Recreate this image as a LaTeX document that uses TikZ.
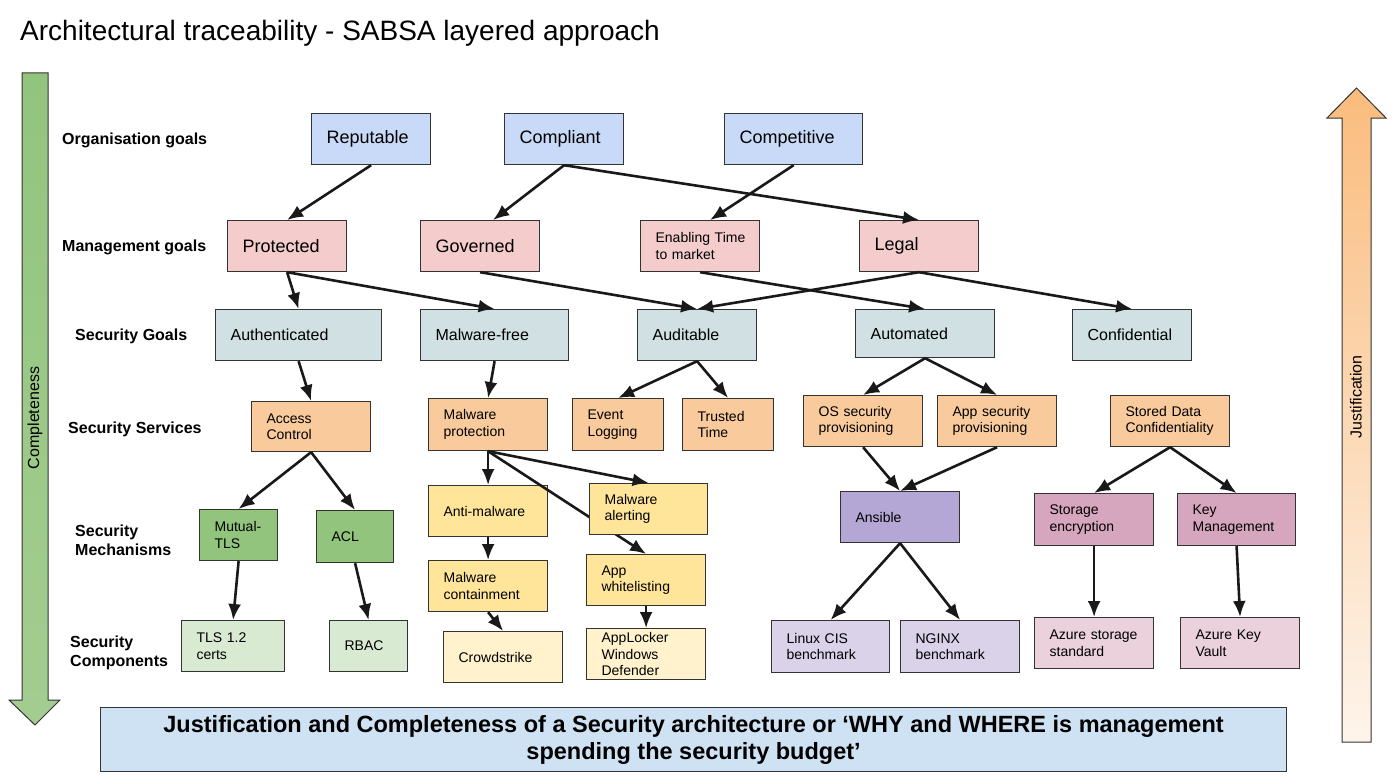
\documentclass[tikz,border=0pt]{standalone}
\usepackage{fontspec}
\setmainfont{Liberation Sans}
\usetikzlibrary{arrows.meta}

\definecolor{orgfill}{HTML}{C9DAF8}
\definecolor{mgmtfill}{HTML}{F4CCCC}
\definecolor{secgoalfill}{HTML}{D0E0E3}
\definecolor{servfill}{HTML}{F9CB9C}
\definecolor{mechgreen}{HTML}{93C47D}
\definecolor{compgreen}{HTML}{D9EAD3}
\definecolor{mechyellow}{HTML}{FFE599}
\definecolor{compyellow}{HTML}{FFF2CC}
\definecolor{mechpurple}{HTML}{B4A7D6}
\definecolor{comppurple}{HTML}{D9D2E9}
\definecolor{mechmauve}{HTML}{D5A6BD}
\definecolor{compmauve}{HTML}{EAD1DC}
\definecolor{summaryfill}{HTML}{CFE2F3}
\definecolor{edgegray}{HTML}{333333}

\begin{document}
\begin{tikzpicture}[
  x=1pt,y=-1pt,
  >={Latex[length=16pt,width=13pt]},
  box/.style={draw=edgegray,line width=1.2pt,anchor=north west,inner xsep=15pt,inner ysep=2pt,
    text width=89pt,minimum height=51pt,align=left,
    font=\fontsize{14}{16.5}\selectfont},
  big/.style={box,font=\fontsize{18}{21}\selectfont},
  mid/.style={box,font=\fontsize{16}{19}\selectfont},
  layer/.style={anchor=west,align=left,inner sep=0pt,font=\bfseries\fontsize{16}{19.3}\selectfont},
  link/.style={->,line width=2.6pt,draw=black!90},
  bigarrow/.style={draw=edgegray,line width=1pt}
]
  \useasboundingbox (0,0) rectangle (1400,784);

  \node[anchor=base west,inner sep=0pt,font=\fontsize{28}{32}\selectfont] (title) at (20,40.7)
    {Architectural traceability - SABSA layered approach};

  % side arrows
  \shadedraw[bigarrow,top color=mechgreen,middle color=compgreen,bottom color=mechgreen!85!white]
    (22,73) -- (48,73) -- (48,700) -- (60,700) -- (35,725) -- (9,700) -- (22,700) -- cycle;
  \node[rotate=90,font=\fontsize{16}{19}\selectfont] (compl) at (35,418) {Completeness};
  \shadedraw[bigarrow,top color=servfill!80!orange,bottom color=servfill!20!white]
    (1342,742) -- (1371,742) -- (1371,118) -- (1386,118) -- (1356.5,88) -- (1327,118) -- (1342,118) -- cycle;
  \node[rotate=90,font=\fontsize{16}{19}\selectfont] (justif) at (1356,397) {Justification};

  % layer names
  \node[layer] (lorg) at (62,140) {Organisation goals};
  \node[layer] (lmgmt) at (62,247) {Management goals};
  \node[layer] (lsgoal) at (75,336) {Security Goals};
  \node[layer] (lserv) at (68,429) {Security Services};
  \node[layer] (lmech) at (75,540.5) {Security\\Mechanisms};
  \node[layer] (lcomp) at (70,653) {Security\\Components};

  % organisation goals
  \node[big,fill=orgfill] (rep) at (311,113) {Reputable};
  \node[big,fill=orgfill] (compli) at (504,113) {Compliant};
  \node[big,fill=orgfill,text width=108pt] (compet) at (724,113) {Competitive};

  % management goals
  \node[big,fill=mgmtfill] (prot) at (227,220) {Protected};
  \node[big,fill=mgmtfill] (gov) at (420,220) {Governed};
  \node[box,fill=mgmtfill] (ttm) at (640,220) {\mbox{Enabling Time}\\to market};
  \node[big,fill=mgmtfill] (legal) at (859,220) {Legal};

  % security goals
  \node[mid,fill=secgoalfill,text width=136pt] (authn) at (215,309) {Authenticated};
  \node[mid,fill=secgoalfill,text width=118pt] (mfree) at (420,309) {Malware-free};
  \node[mid,fill=secgoalfill] (audit) at (637,309) {Auditable};
  \node[mid,fill=secgoalfill,text width=109pt,minimum height=48pt] (autom) at (855,309) {Automated};
  \node[mid,fill=secgoalfill] (conf) at (1072,309) {Confidential};

  % security services
  \node[box,fill=servfill,minimum height=50pt] (acc) at (251,401) {Access\\Control};
  \node[box,fill=servfill,minimum height=52pt] (mprot) at (428,398) {Malware\\protection};
  \node[box,fill=servfill,text width=61pt,minimum height=52pt] (evlog) at (572,398) {Event\\Logging};
  \node[box,fill=servfill,text width=61pt,minimum height=52pt] (trtime) at (682,398) {Trusted\\Time};
  \node[box,fill=servfill] (ossec) at (803,395) {OS security\\provisioning};
  \node[box,fill=servfill] (appsec) at (937,395) {App security\\provisioning};
  \node[box,fill=servfill] (sdc) at (1110,395) {Stored Data\\\mbox{Confidentiality}};

  % security mechanisms
  \node[box,fill=mechgreen,text width=48pt] (mtls) at (199,509) {Mutual-\\TLS};
  \node[box,fill=mechgreen,text width=47pt,minimum height=52pt] (acl) at (316,510) {ACL};
  \node[box,fill=mechyellow] (antim) at (428,485) {Anti-malware};
  \node[box,fill=mechyellow] (mcont) at (428,560) {Malware\\containment};
  \node[box,fill=mechyellow] (appwl) at (586,554) {App\\whitelisting};
  \node[box,fill=mechpurple] (ansible) at (840,491) {Ansible};
  \node[box,fill=mechmauve,minimum height=52pt] (stenc) at (1034,493) {Storage\\encryption};
  \node[box,fill=mechmauve,text width=88pt,minimum height=52pt] (keym) at (1177,493) {Key\\Management};

  % security components
  \node[box,fill=compgreen,text width=73pt] (tls) at (181,620) {TLS 1.2\\certs};
  \node[box,fill=compgreen,text width=48pt] (rbac) at (329,620) {RBAC};
  \node[box,fill=compyellow] (crowd) at (443,631) {Crowdstrike};
  \node[box,fill=compyellow] (applock) at (586,628) {AppLocker\\Windows\\Defender};
  \node[box,fill=comppurple,text width=88pt,minimum height=52pt] (linux) at (771,620) {Linux CIS\\benchmark};
  \node[box,fill=comppurple,minimum height=52pt] (nginx) at (900,620) {NGINX\\benchmark};
  \node[box,fill=compmauve] (azst) at (1034,617) {Azure storage\\standard};
  \node[box,fill=compmauve] (azkv) at (1180,617) {Azure Key\\Vault};

  % traceability links
  \draw[link] (rep.south) -- (prot.north);
  \draw[link] (compli.south) -- ([xshift=13pt]gov.north);
  \draw[link] (compli.south) -- (legal.north);
  \draw[link] (compet.south) -- ([xshift=10pt]ttm.north);
  \draw[link] (prot.south) -- (authn.north);
  \draw[link] (prot.south) -- (mfree.north);
  \draw[link] (gov.south) -- (audit.north);
  \draw[link] (legal.south) -- (audit.north);
  \draw[link] (ttm.south) -- (autom.north);
  \draw[link] (legal.south) -- (conf.north);
  \draw[link] (authn.south) -- (acc.north);
  \draw[link] (mfree.south) -- (mprot.north);
  \draw[link] (audit.south) -- (evlog.north);
  \draw[link] (audit.south) -- (trtime.north);
  \draw[link] (autom.south) -- (ossec.north);
  \draw[link] (autom.south) -- (appsec.north);
  \draw[link] (sdc.south) -- (stenc.north);
  \draw[link] (sdc.south) -- (keym.north);
  \draw[link] (acc.south) -- (mtls.north);
  \draw[link] (acc.south) -- (acl.north);
  \draw[link] (mprot.south) -- (antim.north);
  \draw[link] (mprot.south) -- (appwl.north);
  \draw[link] (antim.south) -- (mcont.north);
  \draw[link] (mcont.south) -- (crowd.north);
  \draw[link] (appwl.south) -- (applock.north);
  \draw[link] (ossec.south) -- (ansible.north);
  \draw[link] (appsec.south) -- (ansible.north);
  \draw[link] (ansible.south) -- (linux.north);
  \draw[link] (ansible.south) -- (nginx.north);
  \draw[link] (stenc.south) -- (azst.north);
  \draw[link] (keym.south) -- (azkv.north);
  \draw[link] (mtls.south) -- (tls.north);
  \draw[link] (acl.south) -- (rbac.north);

  % drawn last so it hides the whitelisting link
  \node[box,fill=mechyellow,text width=88pt] (malert) at (589,483) {Malware\\alerting};
  \draw[link] (mprot.south) -- (malert.north);

  \node[draw=edgegray,line width=1.2pt,fill=summaryfill,anchor=north west,
    minimum width=1186pt,minimum height=64pt,align=center,inner sep=0pt,
    font=\bfseries\fontsize{23.5}{27}\selectfont] (summary) at (100,707)
    {Justification and Completeness of a Security architecture or ‘WHY and WHERE is management\\
     spending the security budget’};
\end{tikzpicture}
\end{document}
